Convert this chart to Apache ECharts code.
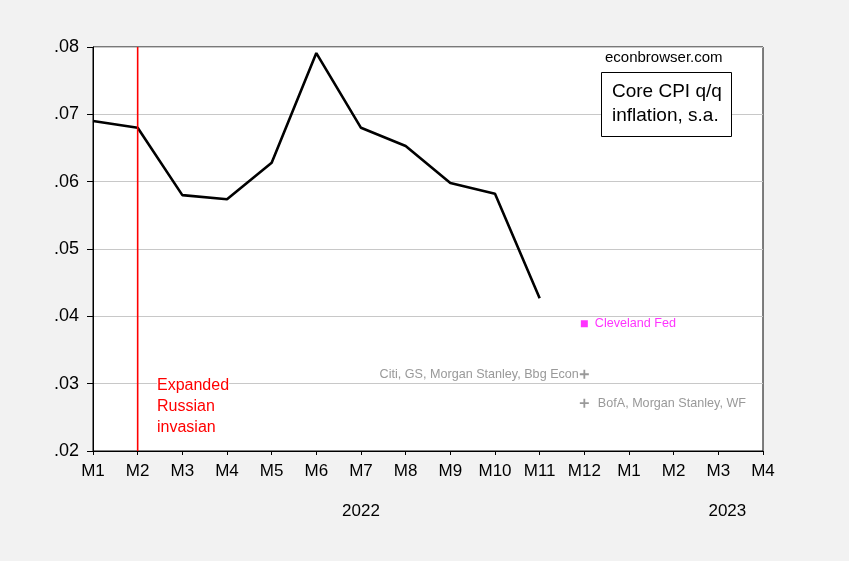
<!DOCTYPE html>
<html>
<head>
<meta charset="utf-8">
<script src="https://cdn.jsdelivr.net/npm/echarts@6/dist/echarts.min.js"></script>
<style>
  html, body { margin: 0; padding: 0; background: #f2f2f2; }
  #chart { width: 849px; height: 561px; }
</style>
</head>
<body>
<div id="chart"></div>
<script>
var months = ['M1', 'M2', 'M3', 'M4', 'M5', 'M6', 'M7', 'M8', 'M9', 'M10', 'M11', 'M12', 'M1', 'M2', 'M3', 'M4'];
var years = ['2022', '2022', '2022', '2022', '2022', '2022', '2022', '2022', '2022', '2022', '2022', '2022', '2023', '2023', '2023', '2023'];
var coreCpi = [0.0690, 0.0680, 0.0580, 0.0574, 0.0628, 0.0791, 0.0680, 0.0653, 0.0598, 0.0582, 0.0427];
var clevelandFed = 0.0389;
var citiEtc = 0.0314;
var bofaEtc = 0.0271;
var forecastMonth = 11;  // M12 2022
var invasionMonth = 1;   // M2 2022
var yMin = 0.02, yMax = 0.08, yStep = 0.01;

var cats = months.map(function (m, i) { return years[i] + m; });
var fnt = 'Liberation Sans, Arial, sans-serif';
var plus = 'path://M4,0 H6 V4 H10 V6 H6 V10 H4 V6 H0 V4 H4 Z';

function at(idx, v) {
    return [[cats[idx], v]];
}

var option = {
    animation: false,
    backgroundColor: '#f2f2f2',
    grid: {
        left: 93, right: 86, top: 47, bottom: 110,
        show: true, backgroundColor: '#fff', borderColor: '#000', borderWidth: 1
    },
    xAxis: [{
        type: 'category',
        data: cats,
        boundaryGap: false,
        axisLine: { lineStyle: { color: '#000' } },
        axisTick: { length: 4, lineStyle: { color: '#000' } },
        axisLabel: {
            interval: 0, margin: 12, color: '#000', fontSize: 17, fontFamily: fnt,
            formatter: function (v) { return v.slice(4); }
        },
        splitLine: { show: false }
    }, {
        type: 'category',
        data: cats,
        boundaryGap: false,
        position: 'bottom',
        offset: 44,
        axisLine: { show: false },
        axisTick: { show: false },
        splitLine: { show: false },
        axisLabel: {
            color: '#000', fontSize: 17, fontFamily: fnt,
            interval: function (i) { return i === 6 || i === 14; },
            formatter: function (v, i) {
                return i === 14 ? '{p|' + v.slice(0, 4) + '}' : v.slice(0, 4);
            },
            rich: { p: { fontSize: 17, fontFamily: fnt, color: '#000', padding: [0, 0, 0, 18] } }
        }
    }],
    yAxis: {
        type: 'value',
        min: yMin, max: yMax, interval: yStep,
        axisLine: { show: true, onZero: false, lineStyle: { color: '#000' } },
        axisTick: { show: true, length: 6, lineStyle: { color: '#000' } },
        axisLabel: {
            color: '#000', fontSize: 18, fontFamily: fnt, margin: 14,
            formatter: function (v) { return v.toFixed(2).replace('0.', '.'); }
        },
        splitLine: { lineStyle: { color: '#c8c8c8', width: 1 } }
    },
    series: [{
        type: 'line',
        data: coreCpi,
        symbol: 'none',
        color: '#000',
        lineStyle: { color: '#000', width: 2.6 },
        z: 5
    }, {
        // vertical marker for the expanded invasion
        type: 'line',
        data: [[cats[invasionMonth], yMin], [cats[invasionMonth], yMax]],
        symbol: 'none',
        color: '#ff0000',
        lineStyle: { color: '#ff0000', width: 1.6, cap: 'butt' },
        z: 6
    }, {
        type: 'scatter',
        data: at(forecastMonth, clevelandFed),
        symbol: 'rect',
        symbolSize: 7,
        itemStyle: { color: '#ff00ff' },
        label: {
            show: true, position: 'right', distance: 7,
            formatter: 'Cleveland Fed', color: '#ff00ff', fontSize: 12.6, fontFamily: fnt
        }
    }, {
        type: 'scatter',
        data: at(forecastMonth, citiEtc),
        symbol: plus,
        symbolSize: 9,
        itemStyle: { color: '#808080' },
        label: {
            show: true, position: 'left', distance: 1,
            formatter: 'Citi, GS, Morgan Stanley, Bbg Econ', color: '#808080', fontSize: 12.6, fontFamily: fnt
        }
    }, {
        type: 'scatter',
        data: at(forecastMonth, bofaEtc),
        symbol: plus,
        symbolSize: 9,
        itemStyle: { color: '#808080' },
        label: {
            show: true, position: 'right', distance: 9,
            formatter: 'BofA, Morgan Stanley, WF', color: '#808080', fontSize: 12.6, fontFamily: fnt
        }
    }],
    graphic: [{
        type: 'text',
        left: 157, top: 375, z: 100,
        style: {
            text: 'Expanded\nRussian\ninvasian',
            fill: '#ff0000', font: '16px ' + fnt, lineHeight: 21,
            backgroundColor: '#fff'
        }
    }, {
        type: 'text',
        left: 605, top: 50, z: 100,
        style: { text: 'econbrowser.com', fill: '#000', font: '15px ' + fnt }
    }, {
        type: 'rect',
        left: 601, top: 72, z: 100,
        shape: { width: 130, height: 64 },
        style: { fill: '#fff', stroke: '#000', lineWidth: 1 }
    }, {
        type: 'text',
        left: 612, top: 80, z: 101,
        style: {
            text: 'Core CPI q/q\ninflation, s.a.',
            fill: '#000', font: '19px ' + fnt, lineHeight: 24
        }
    }]
};

var myChart = echarts.init(document.getElementById('chart'));
myChart.setOption(option);
</script>
</body>
</html>
